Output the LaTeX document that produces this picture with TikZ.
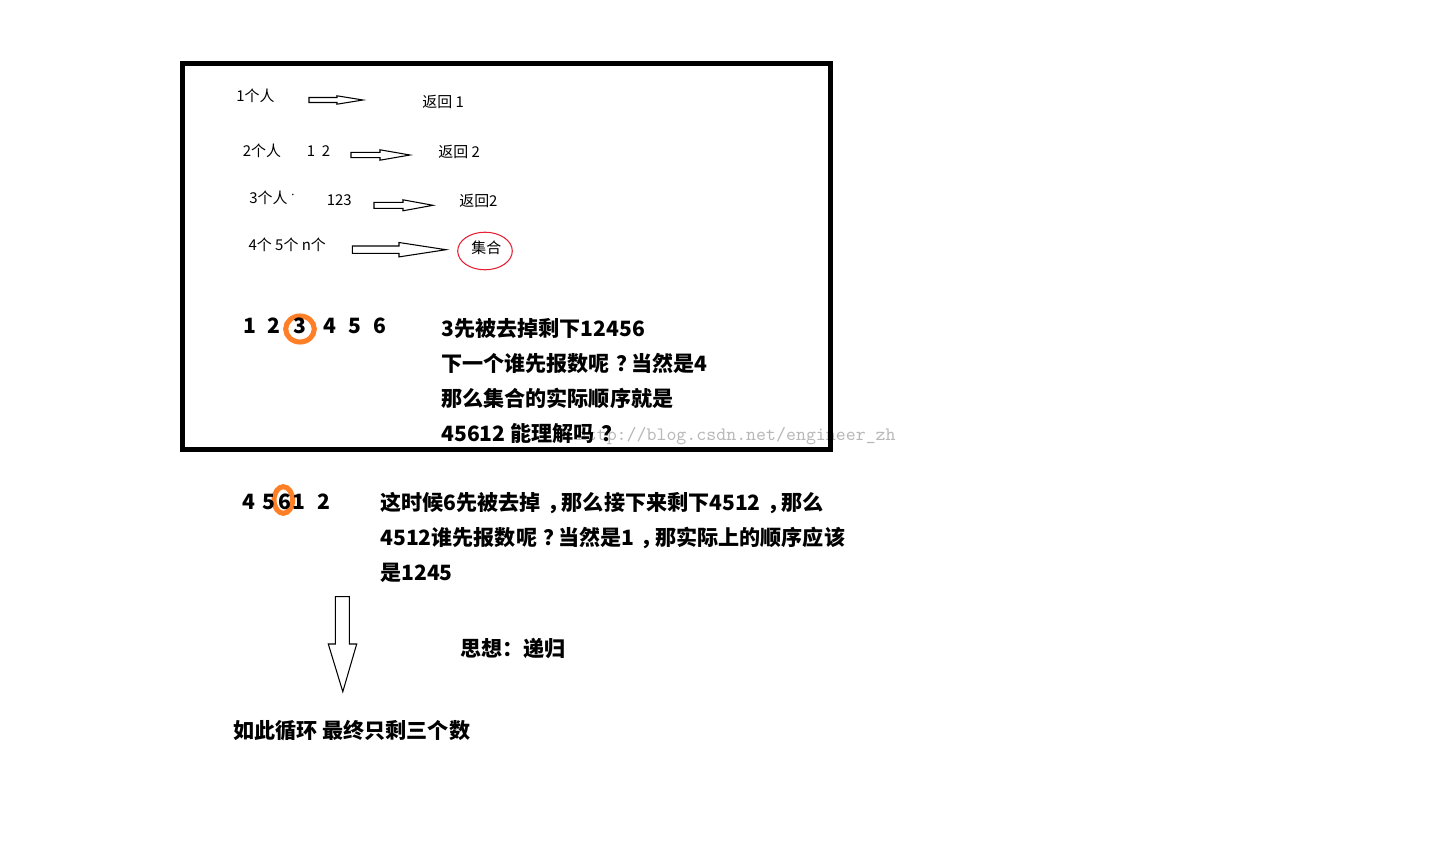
\documentclass[tikz,border=0pt]{standalone}
\usepackage{fontspec}
\newfontfamily\cjk{Noto Sans CJK SC}
\usetikzlibrary{positioning}
\definecolor{ringorange}{RGB}{255,127,39}
\definecolor{inkred}{RGB}{230,30,50}

% hollow block arrow: start x, head base x, tip x, centre y, half shaft, half head
\newcommand{\blockarrow}[6]{%
  \draw[hollow] (#1,#4-#5) -- (#2,#4-#5) -- (#2,#4-#6) -- (#3,#4)
    -- (#2,#4+#6) -- (#2,#4+#5) -- (#1,#4+#5) -- cycle;}
% centred full-width marks
\newcommand{\qmark}{\kern0.3em？\kern-0.3em}
\newcommand{\cmark}{\kern0.3em，\kern-0.3em}

\begin{document}
\begin{tikzpicture}[x=0.02cm,y=-0.02cm,
        small/.style = {anchor=base west, inner sep=0pt, font=\cjk\fontsize{8.5}{10}\selectfont},
        big/.style = {anchor=base west, inner sep=0pt, font=\cjk\bfseries\fontsize{12}{14}\selectfont},
        ring/.style = {draw=ringorange, line width=2.9pt},
        hollow/.style = {draw, line width=0.6pt, fill=white},]
        \useasboundingbox (0,0) rectangle (1453,845);

        % watermark under the frame
        \node[anchor=base east, inner sep=0pt, text=black!28, font=\ttfamily\fontsize{10.8}{12}\selectfont] (mark) at (896,440) {http://blog.csdn.net/engineer\_zh};

        \draw[line width=2.6pt] (182.5,63.3) rectangle (830.7,449.6);

        % small cases
        \node[small] (p1) at (236,101) {1个人};
        \node[small] (r1) at (422,107.5) {返回 1};
        \node[small] (p2) at (242.5,156.5) {2个人};
        \node[small] (s2) at (306.5,156.5) {1\hspace{0.45em}2};
        \node[small] (r2) at (438,157.5) {返回 2};
        \node[small] (p3) at (249,203.3) {3个人 \raisebox{0.35em}{$\cdot$}};
        \node[small] (s3) at (326.5,205.5) {123};
        \node[small] (r3) at (459,206.5) {返回2};
        \node[small] (p4) at (248.3,250) {4个 5个 n个};
        \node[small] (set) at (471,253.5) {集合};
        \draw[inkred, line width=0.6pt] (485,251) ellipse (27.3 and 18.8);

        \blockarrow{309}{337}{363}{100}{2.5}{4.2}
        \blockarrow{351}{380}{410}{155}{2.7}{5.2}
        \blockarrow{374}{403}{433}{205.3}{3}{5.5}
        \blockarrow{352.3}{399}{446}{249.7}{3.7}{7.2}

        % first round
        \draw[ring] (300,329) ellipse (14.3 and 13);
        \foreach \d/\x in {1/243.3,2/266.7,3/293.3,4/323.3,5/348.3,6/373.3}
            \node[big] (a\d) at (\x,333) {\d};
        \foreach \t [count=\i] in {3先被去掉剩下12456,下一个谁先报数呢\qmark 当然是4,那么集合的实际顺序就是,45612 能理解吗\qmark}
            \node[big] (t\i) at (441,336+35.2*\i-35.2) {\t};

        % second round
        \draw[ring] (283.3,500) ellipse (9.3 and 13.3);
        \foreach \d/\x in {4/241.7,5/261.7,6/278.3,1/292.5,2/317.3}
            \node[big] (b\d) at (\x,509.3) {\d};
        \foreach \t [count=\i] in {这时候6先被去掉\cmark 那么接下来剩下4512\cmark 那么,4512谁先报数呢\qmark 当然是1\cmark 那实际上的顺序应该,是1245}
            \node[big] (u\i) at (380,510+35*\i-35) {\t};

        \draw[hollow] (335.3,596.7) -- (349.3,596.7) -- (349.3,644) -- (356.7,644)
            -- (342.8,691.7) -- (328.3,644) -- (335.3,644) -- cycle;

        \node[big] (idea) at (460,656) {思想：递归};
        \node[big] (end) at (233,738) {如此循环 最终只剩三个数};

\end{tikzpicture}
\end{document}
